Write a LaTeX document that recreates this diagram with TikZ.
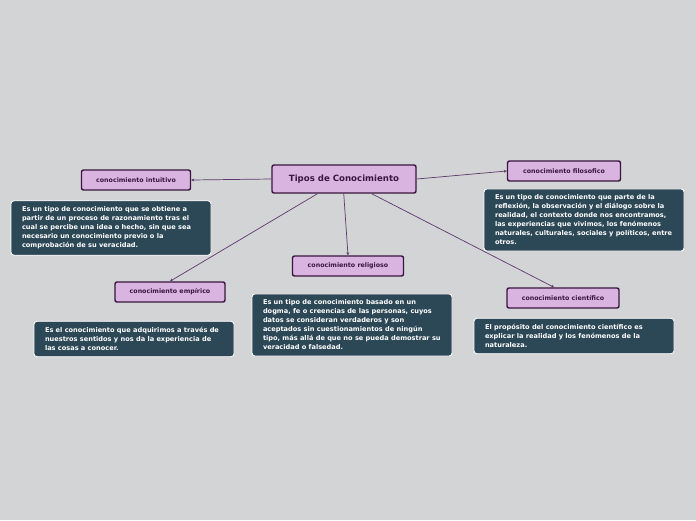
\documentclass[tikz,border=0pt]{standalone}
\usepackage{fontspec}
\setmainfont{DejaVu Sans}
\usetikzlibrary{arrows.meta}
\definecolor{bgcol}{HTML}{D3D4D6}
\definecolor{topicfill}{HTML}{DAB4E0}
\definecolor{topicline}{HTML}{3A1540}
\definecolor{notefill}{HTML}{2C4756}
\definecolor{linkcol}{HTML}{5E3A6E}
\tikzset{
  topic/.style={draw=topicline,fill=topicfill,rounded corners=2pt,line width=.5mm,
    minimum height=20pt,inner xsep=4pt,font=\bfseries\fontsize{6.3}{7}\selectfont,text=topicline},
  note/.style={draw=white,fill=notefill,rounded corners=3pt,line width=.3mm,text=white,
    text width=178pt,align=flush left,inner xsep=11pt,inner ysep=6pt,
    font=\bfseries\fontsize{6.6}{9}\selectfont},
  link/.style={draw=linkcol,line width=.25mm,-{Stealth[length=3pt,width=3pt]}}
}
\begin{document}
\begin{tikzpicture}[x=1pt,y=-1pt]
  \fill[bgcol] (0,0) rectangle (696,520);
  \useasboundingbox (0,0) rectangle (696,520);

  \node[topic,minimum width=144pt,minimum height=28pt,font=\bfseries\fontsize{8.6}{10}\selectfont] (main) at (344,179) {Tipos de Conocimiento};

  \node[topic,minimum width=109pt] (intu) at (136,180) {conocimiento intuitivo};
  \node[topic,minimum width=113pt] (filo) at (564,171) {conocimiento filosofico};
  \node[topic,minimum width=111pt] (reli) at (348,266) {conocimiento religioso};
  \node[topic,minimum width=110pt] (empi) at (170,292) {conocimiento empírico};
  \node[topic,minimum width=112pt] (cien) at (563,298) {conocimiento científico};

  \node[note] (intuN) at (111,228) {Es un tipo de conocimiento que se obtiene a partir de un proceso de razonamiento tras el cual se percibe una idea o hecho, sin que sea necesario un conocimiento previo o la comprobación de su veracidad.};
  \node[note] (filoN) at (584,220) {Es un tipo de conocimiento que parte de la reflexión, la observación y el diálogo sobre la realidad, el contexto donde nos encontramos, las experiencias que vivimos, los fenómenos naturales, culturales, sociales y políticos, entre otros.};
  \node[note] (reliN) at (352,325) {Es un tipo de conocimiento basado en un dogma, fe o creencias de las personas, cuyos datos se consideran verdaderos y son aceptados sin cuestionamientos de ningún tipo, más allá de que no se pueda demostrar su veracidad o falsedad.};
  \node[note] (empiN) at (134,339) {Es el conocimiento que adquirimos a través de nuestros sentidos y nos da la experiencia de las cosas a conocer.};
  \node[note] (cienN) at (574,336) {El propósito del conocimiento científico es explicar la realidad y los fenómenos de la naturaleza.};

  \draw[link] (main.west) -- (intu.east);
  \draw[link] (main.east) -- (filo.west);
  \draw[link] (main.-151) -- (empi.north);
  \draw[link] (main.-91) -- (reli.north);
  \draw[link] (main.-28) -- (cien.130);
\end{tikzpicture}
\end{document}
